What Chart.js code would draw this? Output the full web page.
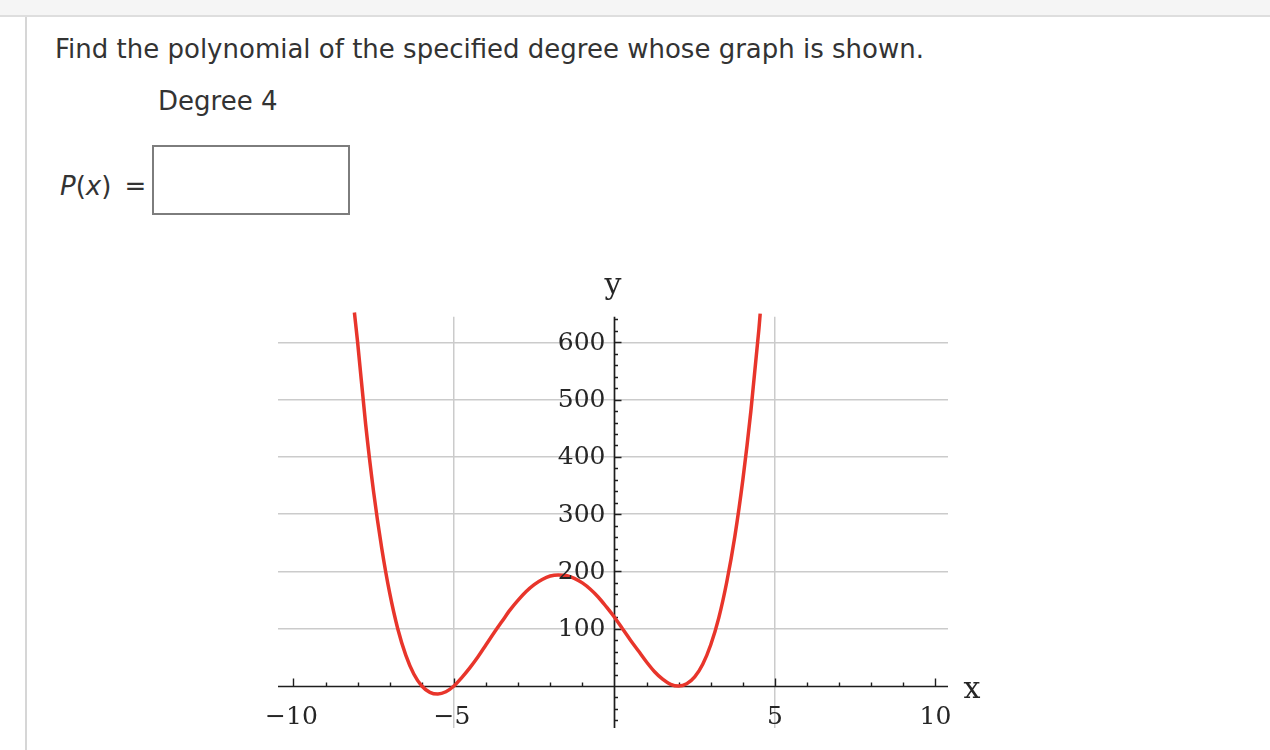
<!DOCTYPE html>
<html>
<head>
<meta charset="utf-8">
<script src="https://cdn.jsdelivr.net/npm/chart.js@4.4.1/dist/chart.umd.min.js"></script>
<style>
  body { margin: 0; background: #fff; font-family: "DejaVu Sans", Verdana, sans-serif; color: #333; }
  #topbar { position: absolute; left: 0; top: 0; width: 1270px; height: 15px; background: #f5f5f5; border-bottom: 2px solid #dedede; }
  #leftline { position: absolute; left: 25px; top: 17px; width: 2px; height: 740px; background: #d6d6d6; }
  .txt { position: absolute; font-size: 26px; line-height: normal; white-space: nowrap; }
  #answer { position: absolute; left: 152px; top: 145px; width: 194px; height: 66px; border: 2px solid #7d7d7d; background: #fff; }
  #wrap { position: absolute; left: 230px; top: 260px; width: 780px; height: 490px; }
</style>
</head>
<body>
<div id="topbar"></div>
<div id="leftline"></div>
<div class="txt" style="left:55px; top:34px;">Find the polynomial of the specified degree whose graph is shown.</div>
<div class="txt" style="left:158px; top:86px;">Degree 4</div>
<div class="txt" style="left:60px; top:171px;"><i>P</i>(<i>x</i>)<span style="margin-left:13px">=</span></div>
<div id="answer"></div>
<div id="wrap"><canvas id="graph" width="780" height="490"></canvas></div>
<script>
// curve
const xValues = [-8.1, -8, -7.75, -7.5, -7.25, -7, -6.75, -6.5, -6.25, -6, -5.75, -5.5, -5.25, -5,
  -4.75, -4.5, -4.25, -4, -3.75, -3.5, -3.25, -3, -2.75, -2.5, -2.25, -2, -1.75, -1.5, -1.25, -1,
  -0.75, -0.5, -0.25, 0, 0.25, 0.5, 0.75, 1, 1.25, 1.5, 1.75, 2, 2.25, 2.5, 2.75, 3, 3.25, 3.5,
  3.75, 4, 4.25, 4.5, 4.54];
const yValues = [652, 600, 457, 338, 241, 162, 100, 54, 21, 0, -11, -14, -10, 0,
  15, 32, 51, 72, 93, 113, 133, 150, 165, 177, 186, 192, 194, 193, 188, 180,
  169, 155, 138, 120, 100, 80, 61, 42, 25, 12, 3, 0, 4, 16, 38, 72, 119, 182,
  261, 360, 480, 623, 650];

const xTickLabels = [-10, -5, 5, 10];
const yTickLabels = [100, 200, 300, 400, 500, 600];

const points = xValues.map((x, i) => ({ x: x, y: yValues[i] }));

const axesPlugin = {
  id: "axesPlugin",
  beforeDatasetsDraw(chart) {
    const ctx = chart.ctx;
    const xs = chart.scales.x, ys = chart.scales.y, area = chart.chartArea;
    const x0 = Math.round(xs.getPixelForValue(0)) + 0.5;
    const y0 = Math.round(ys.getPixelForValue(0)) + 0.5;
    ctx.save();
    ctx.strokeStyle = "#1e1e1e";
    ctx.lineWidth = 1.7;
    ctx.beginPath();
    ctx.moveTo(area.left, y0); ctx.lineTo(area.right, y0);
    ctx.moveTo(x0, area.top); ctx.lineTo(x0, area.bottom);
    ctx.stroke();
    ctx.lineWidth = 1.4;
    ctx.beginPath();
    for (let i = -10; i <= 10; i++) {
      if (i === 0) continue;
      const px = Math.round(xs.getPixelForValue(i)) + 0.5;
      ctx.moveTo(px, y0);
      ctx.lineTo(px, y0 - (i % 5 === 0 ? 8 : 4));
    }
    for (let v = -60; v <= 640; v += 20) {
      if (v === 0) continue;
      const py = Math.round(ys.getPixelForValue(v)) + 0.5;
      ctx.moveTo(x0, py);
      ctx.lineTo(x0 + (v % 100 === 0 ? 7 : 3.5), py);
    }
    ctx.stroke();
    ctx.restore();
  },
  afterDatasetsDraw(chart) {
    const ctx = chart.ctx;
    const xs = chart.scales.x, ys = chart.scales.y;
    const x0 = xs.getPixelForValue(0);
    const y0 = ys.getPixelForValue(0);
    ctx.save();
    ctx.fillStyle = "#262626";
    ctx.font = "25px 'DejaVu Serif', serif";
    ctx.textAlign = "right";
    ctx.textBaseline = "middle";
    yTickLabels.forEach(v => ctx.fillText(String(v), x0 - 9, ys.getPixelForValue(v) + 1));
    ctx.textAlign = "center";
    xTickLabels.forEach(v => {
      const s = v < 0 ? "\u2212" + Math.abs(v) : String(v);
      ctx.fillText(s, xs.getPixelForValue(v) - (v < 0 ? 2 : 0), y0 + 31);
    });
    ctx.font = "30px 'DejaVu Serif', serif";
    ctx.textBaseline = "alphabetic";
    ctx.fillText("x", 972 - 230, 698 - 260);
    ctx.fillText("y", 613 - 230, 294 - 260);
    ctx.restore();
  }
};

new Chart(document.getElementById("graph").getContext("2d"), {
  type: "scatter",
  data: {
    datasets: [{
      data: points,
      showLine: true,
      borderColor: "#e8352b",
      borderWidth: 3.5,
      pointRadius: 0,
      cubicInterpolationMode: "monotone",
      clip: false
    }]
  },
  options: {
    responsive: false,
    animation: false,
    events: [],
    layout: { padding: { left: 48, right: 62, top: 56.7, bottom: 22 } },
    plugins: { legend: { display: false }, tooltip: { enabled: false } },
    scales: {
      x: {
        type: "linear", min: -10.48, max: 10.39,
        ticks: { display: false, stepSize: 5 },
        border: { display: false },
        grid: {
          drawTicks: false,
          lineWidth: 1.5,
          color: c => (c.tick && c.tick.value !== 0 && c.tick.value % 5 === 0) ? "#cbcbcb" : "rgba(0,0,0,0)"
        }
      },
      y: {
        type: "linear", min: -73.3, max: 644.7,
        ticks: { display: false, stepSize: 100 },
        border: { display: false },
        grid: {
          drawTicks: false,
          lineWidth: 1.5,
          color: c => (c.tick && c.tick.value > 0 && c.tick.value % 100 === 0) ? "#cbcbcb" : "rgba(0,0,0,0)"
        }
      }
    }
  },
  plugins: [axesPlugin]
});
</script>
</body>
</html>
